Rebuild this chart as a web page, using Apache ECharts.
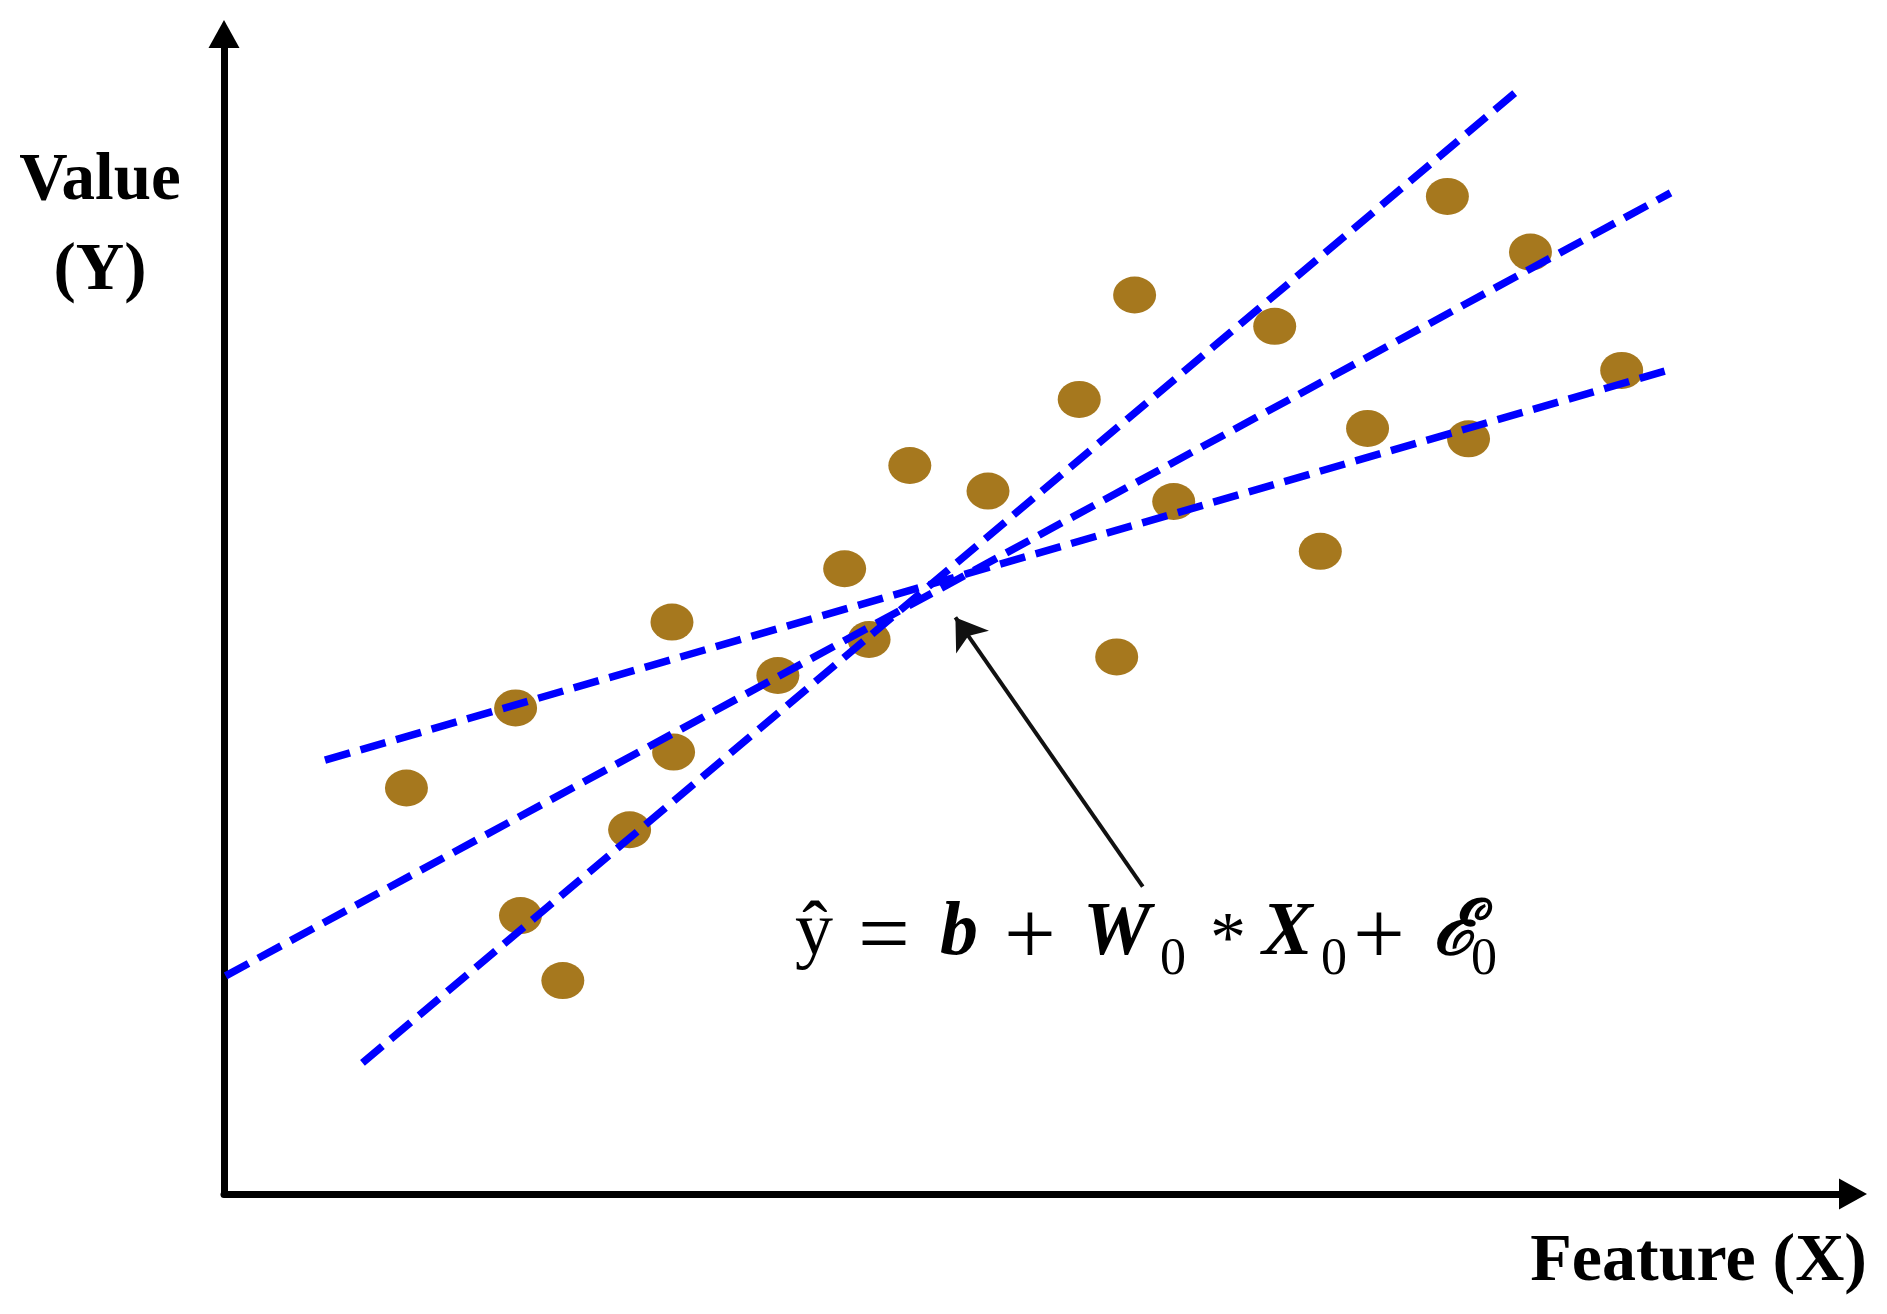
<!DOCTYPE html>
<html>
<head>
<meta charset="utf-8">
<script src="https://cdn.jsdelivr.net/npm/echarts@6/dist/echarts.min.js"></script>
<style>
html,body{margin:0;padding:0;background:#ffffff;}
#chart{width:1887px;height:1314px;}
</style>
</head>
<body>
<div id="chart"></div>
<script>
// ---- data (arbitrary units, axes run 0..100) ----
const pointX = [11.2, 17.9, 18.2, 20.8, 24.9, 27.5, 27.6, 34.0, 38.1, 39.6, 42.1, 46.9, 52.5, 54.8, 55.9, 58.3, 64.5, 67.3, 70.2, 75.1, 76.4, 80.2, 85.8];
const pointY = [35.0, 41.9, 24.0, 18.4, 31.4, 49.3, 38.1, 44.7, 53.9, 47.8, 62.8, 60.6, 68.5, 46.3, 77.5, 59.7, 74.8, 55.4, 66.0, 86.0, 65.1, 81.2, 71.0];

const lineShallow = [[6.2, 37.4], [88.6, 71.0]];
const lineMiddle  = [[0.1, 18.8], [88.8, 86.3]];
const lineSteep   = [[8.5, 11.3], [79.4, 95.1]];

const annotationArrow = [[56.4, 26.5], [44.9, 49.7]];

const xAxisName = 'Feature (X)';
const yAxisName = 'Value\n(Y)';
const equationParts = ['ŷ', '=', 'b', '+', 'W', '0', '*', 'X', '0', '+', 'ℰ', '0'];
const equationKinds = ['r', 'op', 'bi', 'op', 'bi', 's', 'star', 'bi', 's', 'op', 'bi', 's'];

// ---- build ----
const serif = '"Liberation Serif", "DejaVu Serif", "Times New Roman", serif';
const tokenWidths = [63, 82, 64, 79, 77, 50, 52, 59, 32, 80, 38, 26];
const rich = {};
let eqText = '';
equationParts.forEach(function (p, i) {
  const kind = equationKinds[i];
  const name = 't' + i;
  const base = { fontFamily: serif, color: '#000', width: tokenWidths[i], align: 'left', verticalAlign: 'bottom' };
  if (kind === 's') {
    Object.assign(base, { fontSize: 52, lineHeight: 52, padding: [0, 0, 0, 0] });
  } else if (kind === 'bi') {
    Object.assign(base, { fontSize: 76, lineHeight: 80, fontStyle: 'italic', fontWeight: 'bold', padding: [0, 0, 14, 0] });
  } else if (kind === 'op') {
    Object.assign(base, { fontSize: 92, lineHeight: 76, padding: [0, 0, 0, 0] });
  } else if (kind === 'star') {
    Object.assign(base, { fontSize: 72, lineHeight: 80, padding: [0, 0, 8, 0] });
  } else {
    Object.assign(base, { fontSize: 76, lineHeight: 80, padding: [0, 0, 14, 0] });
  }
  rich[name] = base;
  eqText += '{' + name + '|' + p + '}';
});

const scatterData = pointX.map(function (x, i) { return [x, pointY[i]]; });

function dashed(data) {
  return {
    type: 'line',
    data: data,
    symbol: 'none',
    silent: true,
    z: 5,
    lineStyle: { color: '#0000FF', width: 7.5, type: [26, 11] }
  };
}

const axisCommon = {
  type: 'value',
  min: 0,
  max: 100,
  axisTick: { show: false },
  axisLabel: { show: false },
  splitLine: { show: false },
  axisLine: {
    show: true,
    onZero: false,
    symbol: ['none', 'triangle'],
    symbolSize: [31, 28],
    lineStyle: { color: '#000000', width: 7 }
  }
};

const chart = echarts.init(document.getElementById('chart'), null, { renderer: 'canvas' });
chart.setOption({
  animation: false,
  backgroundColor: '#ffffff',
  grid: { left: 224, right: 34, top: 34, bottom: 120, containLabel: false },
  xAxis: Object.assign({}, axisCommon),
  yAxis: Object.assign({}, axisCommon),
  series: [
    {
      type: 'scatter',
      data: scatterData,
      symbol: 'circle',
      symbolSize: [43, 37],
      itemStyle: { color: '#A6781E', opacity: 1 },
      z: 2,
      silent: true
    },
    dashed(lineShallow),
    dashed(lineMiddle),
    dashed(lineSteep),
    {
      type: 'lines',
      coordinateSystem: 'cartesian2d',
      data: [{ coords: annotationArrow }],
      symbol: ['none', 'arrow'],
      symbolSize: 30,
      lineStyle: { color: '#111111', width: 4, opacity: 1, curveness: 0 },
      z: 6,
      silent: true
    }
  ],
  graphic: [
    {
      type: 'text',
      x: 100,
      y: 137,
      style: {
        text: yAxisName,
        fontFamily: serif,
        fontWeight: 'bold',
        fontSize: 67,
        lineHeight: 90,
        fill: '#000',
        align: 'center',
        verticalAlign: 'top'
      }
    },
    {
      type: 'text',
      x: 1867,
      y: 1228,
      style: {
        text: xAxisName,
        fontFamily: serif,
        fontWeight: 'bold',
        fontSize: 68,
        lineHeight: 68,
        fill: '#000',
        align: 'right',
        verticalAlign: 'top'
      }
    },
    {
      type: 'text',
      x: 795,
      y: 906,
      z: 10,
      style: {
        text: eqText,
        rich: rich,
        align: 'left',
        verticalAlign: 'top'
      }
    }
  ]
});
</script>
</body>
</html>
